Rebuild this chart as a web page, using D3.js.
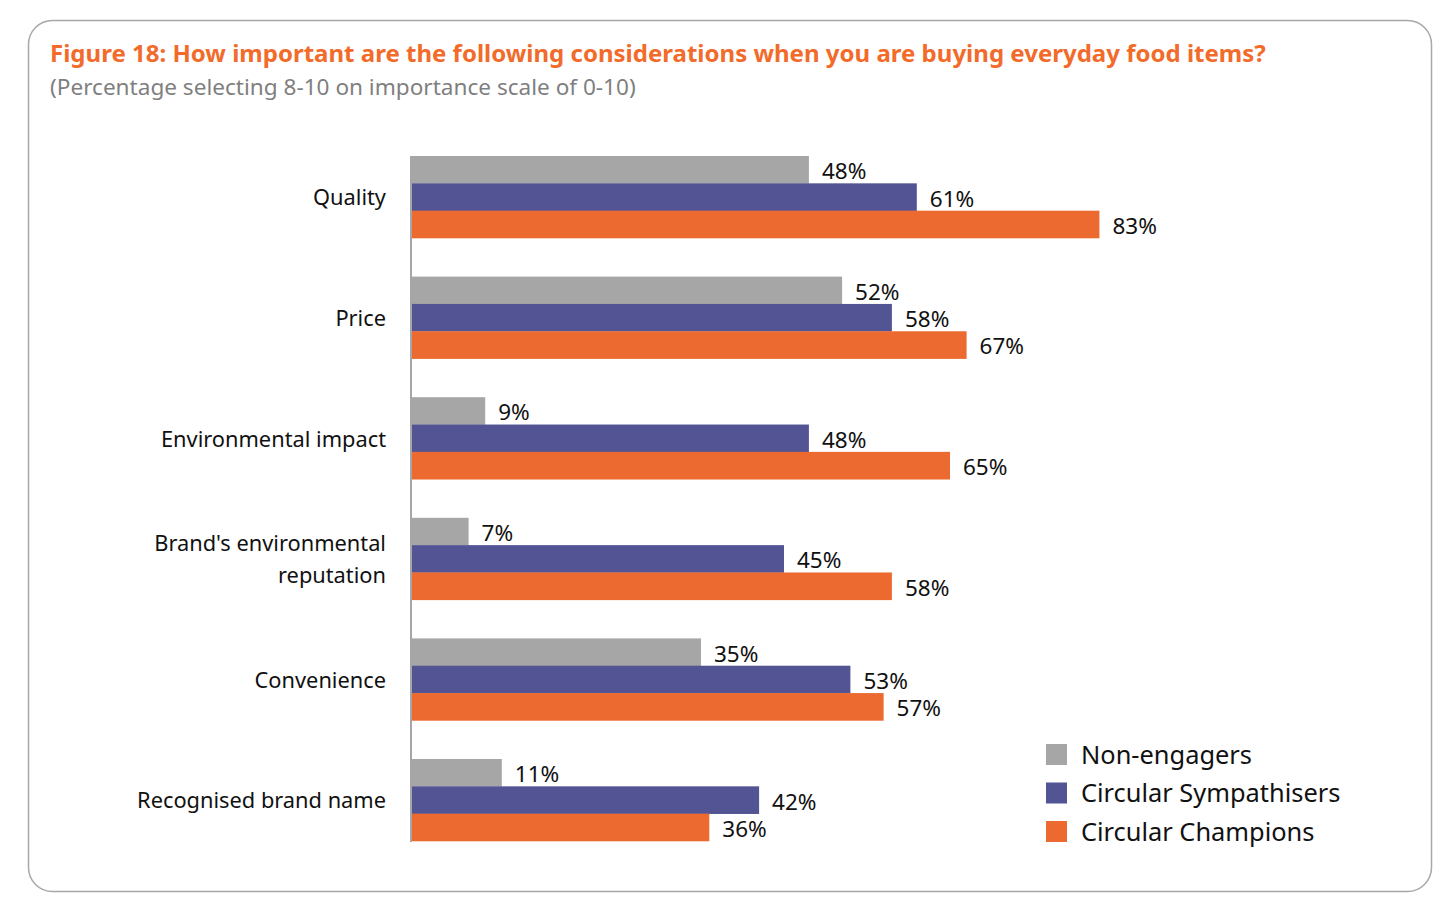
<!DOCTYPE html>
<html>
<head>
<meta charset="utf-8">
<script src="https://cdn.jsdelivr.net/npm/d3@7"></script>
<style>
  body { margin: 0; background: #fff; }
  text { font-family: "Noto Sans", "Open Sans", sans-serif; }
</style>
</head>
<body>
<script>
var categories = ['Quality', 'Price', 'Environmental impact', "Brand's environmental reputation", 'Convenience', 'Recognised brand name'];
var series = ['Non-engagers', 'Circular Sympathisers', 'Circular Champions'];
var nonEngagers = [48, 52, 9, 7, 35, 11];
var sympathisers = [61, 58, 48, 45, 53, 42];
var champions = [83, 67, 65, 58, 57, 36];
var colors = ['#a6a6a6', '#525494', '#ec6a2f'];

var values = [nonEngagers, sympathisers, champions];

var svg = d3.select('body')
    .append('svg')
    .attr('width', 1456)
    .attr('height', 910);

// frame
svg.append('rect')
    .attr('x', 28.5)
    .attr('y', 20.5)
    .attr('width', 1403)
    .attr('height', 871)
    .attr('rx', 24)
    .attr('fill', 'none')
    .attr('stroke', '#a8a8a8')
    .attr('stroke-width', 1.5);

// shrink text to the width it has in the picture
function fit(sel, w) {
    var len = sel.node().getComputedTextLength();
    var fs = parseFloat(sel.attr('font-size'));
    sel.attr('font-size', fs * w / len);
}

var title = svg.append('text')
    .attr('x', 50)
    .attr('y', 62)
    .attr('font-size', 26)
    .attr('font-weight', 'bold')
    .attr('fill', '#f26b2a')
    .text('Figure 18: How important are the following considerations when you are buying everyday food items?');
fit(title, 1217);

var sub = svg.append('text')
    .attr('x', 50)
    .attr('y', 95)
    .attr('font-size', 22)
    .attr('fill', '#7f7f7f')
    .text('(Percentage selecting 8-10 on importance scale of 0-10)');
fit(sub, 586);

var x = d3.scaleLinear()
    .domain([0, 100])
    .range([410.5, 1240.5]);

var y = d3.scaleBand()
    .domain(categories)
    .range([156, 841])
    .paddingInner(0.32)
    .paddingOuter(0);

var ySub = d3.scaleBand()
    .domain(d3.range(series.length))
    .range([0, y.bandwidth()]);

// bars
series.forEach(function(s, i) {
    var g = svg.append('g');
    g.selectAll('rect')
        .data(values[i])
        .enter()
        .append('rect')
        .attr('x', i === 0 ? x(0) - 0.5 : x(0) + 1.5)
        .attr('y', function(d, j) { return y(categories[j]) + ySub(i); })
        .attr('width', function(d) { return x(d) - x(0) - (i === 0 ? -0.5 : 1.5); })
        .attr('height', ySub.bandwidth() + 0.3)
        .attr('fill', colors[i]);

    g.selectAll('text')
        .data(values[i])
        .enter()
        .append('text')
        .attr('x', function(d) { return x(d) + 13; })
        .attr('y', function(d, j) { return y(categories[j]) + ySub(i) + ySub.bandwidth() / 2 + 3.5; })
        .attr('dominant-baseline', 'middle')
        .attr('font-size', 22.5)
        .attr('fill', '#111')
        .text(function(d) { return d + '%'; });
});

// vertical axis line
svg.append('line')
    .attr('x1', x(0) + 0.5)
    .attr('x2', x(0) + 0.5)
    .attr('y1', y.range()[0])
    .attr('y2', y.range()[1] + 1)
    .attr('stroke', '#a6a6a6')
    .attr('stroke-width', 2);

// category labels
var labelLines = {
    "Brand's environmental reputation": ["Brand's environmental", 'reputation']
};
categories.forEach(function(c) {
    var lines = labelLines[c] || [c];
    var cy = y(c) + y.bandwidth() / 2 + 2.5;
    var t = svg.append('text')
        .attr('x', 386)
        .attr('text-anchor', 'end')
        .attr('font-size', 21.8)
        .attr('fill', '#111');
    lines.forEach(function(l, k) {
        t.append('tspan')
            .attr('x', 386)
            .attr('y', cy + (k - (lines.length - 1) / 2) * 32)
            .attr('dominant-baseline', 'middle')
            .text(l);
    });
});

// legend
var legend = svg.append('g')
    .attr('transform', 'translate(1046, 744)');
series.forEach(function(s, i) {
    legend.append('rect')
        .attr('x', 0)
        .attr('y', i * 38.5)
        .attr('width', 21)
        .attr('height', 21)
        .attr('fill', colors[i]);
    legend.append('text')
        .attr('x', 35)
        .attr('y', i * 38.5 + 13)
        .attr('dominant-baseline', 'middle')
        .attr('font-size', 25.4)
        .attr('fill', '#111')
        .text(s);
});
</script>
</body>
</html>
